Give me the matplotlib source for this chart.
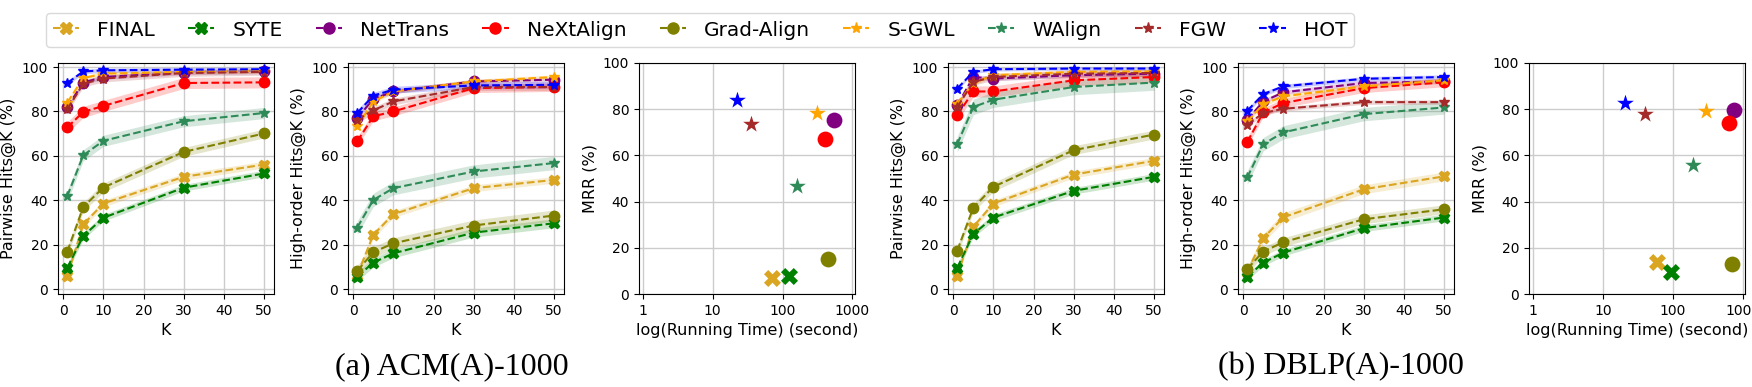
import numpy as np
import matplotlib.pyplot as plt
from matplotlib.lines import Line2D
from matplotlib.ticker import FixedLocator, NullLocator, FixedFormatter

methods = ['FINAL', 'SYTE', 'NetTrans', 'NeXtAlign', 'Grad-Align', 'S-GWL', 'WAlign', 'FGW', 'HOT']
colors = ['#DAA520', 'green', 'purple', 'red', 'olive', 'orange', 'seagreen', 'brown', 'blue']
markers = ['X', 'X', 'o', 'o', 'o', '*', '*', '*', '*']
K = [1, 5, 10, 30, 50]

# ACM(A)-1000, rows follow `methods`
acm_pair = [[6.0, 29.2, 38.6, 50.6, 56.1],
            [9.7, 24.0, 32.2, 45.7, 52.1],
            [82.0, 93.0, 95.5, 97.5, 98.0],
            [72.8, 79.8, 82.5, 92.8, 93.1],
            [16.9, 37.1, 45.8, 61.8, 70.1],
            [84.0, 95.0, 97.0, 97.8, 98.2],
            [41.9, 60.3, 66.8, 75.6, 79.3],
            [81.0, 92.5, 94.8, 97.3, 97.8],
            [92.8, 98.0, 98.5, 98.8, 99.0]]
acm_pair_std = [1.5, 1.5, 1.0, 2.5, 2.0, 1.0, 2.5, 1.5, 1.0]
acm_high = [[6.5, 24.5, 33.8, 45.5, 49.2],
            [5.7, 12.0, 16.2, 25.5, 29.7],
            [77.0, 85.6, 89.0, 93.5, 94.3],
            [66.5, 77.8, 80.0, 90.5, 91.0],
            [8.3, 16.7, 20.7, 28.7, 33.2],
            [73.3, 84.5, 89.0, 93.5, 95.5],
            [27.8, 40.2, 45.5, 53.0, 56.8],
            [76.3, 80.5, 84.5, 91.0, 91.0],
            [79.3, 87.1, 89.8, 91.7, 92.0]]
acm_high_std = [1.5, 2.0, 1.0, 2.0, 2.5, 1.0, 3.0, 1.5, 1.5]
acm_time = [71, 125, 545, 405, 453, 307, 159, 35.9, 22.6]
acm_mrr = [6.9, 7.9, 75.2, 67.0, 15.1, 78.4, 46.8, 73.8, 84.1]

# DBLP(A)-1000
dblp_pair = [[6.0, 28.1, 38.6, 51.6, 57.8],
             [9.7, 24.9, 32.3, 44.3, 50.6],
             [82.8, 95.5, 94.8, 96.3, 97.0],
             [78.3, 89.0, 89.0, 94.0, 95.5],
             [17.4, 36.7, 46.1, 62.6, 69.6],
             [83.5, 92.8, 96.3, 97.8, 98.0],
             [65.3, 82.0, 85.3, 91.0, 93.0],
             [82.0, 93.3, 95.5, 97.0, 97.3],
             [90.3, 97.8, 99.0, 99.3, 99.3]]
dblp_pair_std = [1.5, 1.5, 1.0, 2.5, 2.0, 1.0, 3.5, 1.5, 0.8]
dblp_high = [[8.0, 23.0, 32.4, 45.0, 50.8],
             [5.7, 12.0, 16.5, 27.5, 32.3],
             [76.3, 84.5, 88.6, 92.8, 93.5],
             [66.2, 79.6, 83.8, 90.5, 93.1],
             [9.2, 17.0, 21.2, 31.5, 36.0],
             [75.5, 83.3, 86.8, 91.3, 94.0],
             [50.3, 65.3, 70.6, 78.8, 81.8],
             [74.0, 79.3, 81.2, 84.2, 84.2],
             [80.3, 87.8, 91.3, 94.7, 95.5]]
dblp_high_std = [2.0, 1.5, 1.0, 2.0, 2.0, 1.0, 3.0, 1.0, 1.0]
dblp_time = [59, 93.6, 760, 645, 711, 296, 193, 40.3, 20.8]
dblp_mrr = [14.0, 9.4, 79.5, 74.2, 12.8, 79.1, 56.0, 77.8, 82.7]

scatter_size = {'X': 150, 'o': 130, '*': 160}


def hits_panel(ax, vals, stds, ylabel):
    for i in range(len(methods)):
        y = np.array(vals[i])
        ax.fill_between(K, y - stds[i], y + stds[i], color=colors[i], alpha=0.2, lw=0)
        ax.plot(K, y, ls='--', lw=1.5, color=colors[i], marker=markers[i], ms=7.5)
    ax.set_xlim(-1.3, 52.5)
    ax.set_ylim(-2.1, 101.8)
    ax.set_xticks([0, 10, 20, 30, 40, 50])
    ax.set_yticks([0, 20, 40, 60, 80, 100])
    ax.set_xlabel('K', fontsize=11.5)
    ax.set_ylabel(ylabel, fontsize=11.5)
    ax.grid(color='#cccccc', lw=1)
    ax.set_axisbelow(True)
    ax.tick_params(labelsize=10)


def mrr_panel(ax, times, mrr, xmax):
    for i in range(len(methods)):
        ax.scatter(times[i], mrr[i], color=colors[i], marker=markers[i],
                   s=scatter_size[markers[i]], lw=0, zorder=3)
    ax.set_xscale('log')
    ax.set_xlim(0.88, xmax)
    ax.set_ylim(0, 100)
    ax.xaxis.set_major_locator(FixedLocator([1, 10, 100, 1000]))
    ax.xaxis.set_major_formatter(FixedFormatter(['1', '10', '100', '1000']))
    ax.xaxis.set_minor_locator(NullLocator())
    ax.set_yticks([0, 20, 40, 60, 80, 100])
    ax.set_xlabel('log(Running Time) (second)', fontsize=11.5)
    ax.set_ylabel('MRR (%)', fontsize=11.5)
    ax.grid(color='#cccccc', lw=1)
    ax.set_axisbelow(True)
    ax.tick_params(labelsize=10)


fig = plt.figure(figsize=(17.52, 3.87), dpi=100)
W, H = 1752.0, 387.0
lefts = [58, 348, 639, 948, 1238, 1529]
axs = [fig.add_axes([l / W, 1 - 294 / H, 216 / W, 231 / H]) for l in lefts]

hits_panel(axs[0], acm_pair, acm_pair_std, 'Pairwise Hits@K (%)')
hits_panel(axs[1], acm_high, acm_high_std, 'High-order Hits@K (%)')
mrr_panel(axs[2], acm_time, acm_mrr, 1090)
hits_panel(axs[3], dblp_pair, dblp_pair_std, 'Pairwise Hits@K (%)')
hits_panel(axs[4], dblp_high, dblp_high_std, 'High-order Hits@K (%)')
mrr_panel(axs[5], dblp_time, dblp_mrr, 1080)

handles = [Line2D([], [], ls='--', lw=1.5, color=colors[i], marker=markers[i], ms=8)
           for i in range(len(methods))]
fig.legend(handles, methods, loc='center', bbox_to_anchor=(700 / W, 1 - 30 / H), ncol=9,
           prop={'family': 'DejaVu Sans', 'size': 14.5},
           handlelength=1.3, handletextpad=0.9, columnspacing=1.65,
           borderpad=0.35, frameon=True, edgecolor='#d0d0d0')

fig.text(452 / W, 1 - 367 / H, '(a) ACM(A)-1000', ha='center', va='center',
         fontsize=23, family='Liberation Serif')
fig.text(1341 / W, 1 - 367 / H, '(b) DBLP(A)-1000', ha='center', va='center',
         fontsize=23, family='Liberation Serif')

fig.savefig('out.png', dpi=100)
